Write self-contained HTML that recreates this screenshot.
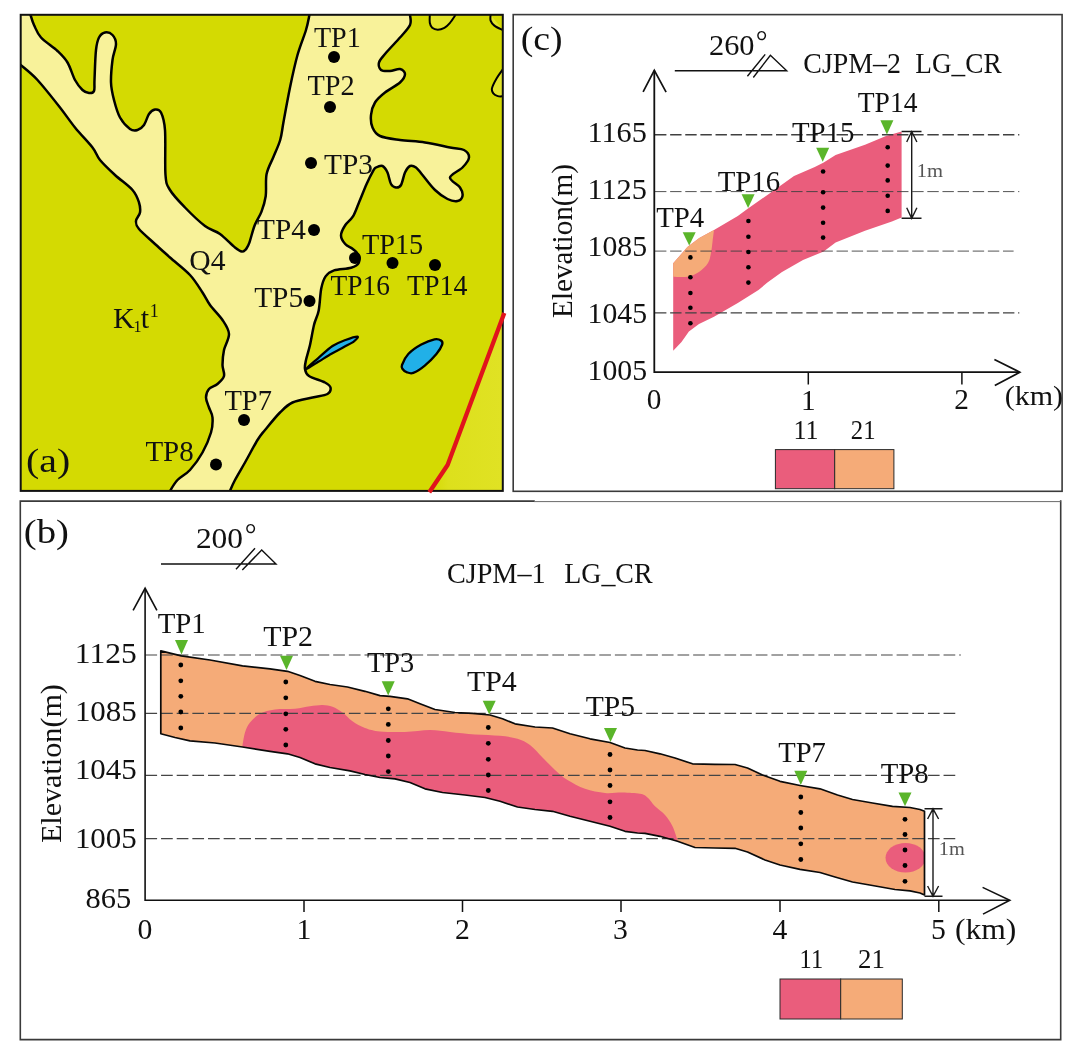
<!DOCTYPE html>
<html lang="en"><head><meta charset="utf-8"><title>Figure</title>
<style>html,body{margin:0;padding:0;background:#fff}svg{display:block}</style></head>
<body>
<svg width="1080" height="1056" viewBox="0 0 1080 1056">
<rect x="0" y="0" width="1080" height="1056" fill="#fff"/>
<defs><clipPath id="ca"><rect x="20.7" y="14.8" width="482.1" height="476.1"/></clipPath>
<linearGradient id="lg" x1="0" y1="0" x2="1" y2="0"><stop offset="0" stop-color="#d4da02"/><stop offset="0.25" stop-color="#dde01c"/><stop offset="1" stop-color="#e0e224"/></linearGradient>
</defs>
<g clip-path="url(#ca)">
<rect x="20.7" y="14.8" width="482.1" height="476.1" fill="#d4da02"/>
<path d="M503 315L447.5 465L430 491L503 491Z" fill="url(#lg)"/>
<path d="M410.0 14.8C410.0 16.5 411.7 21.2 410.0 25.0C408.3 28.8 404.2 32.7 400.0 37.5C395.8 42.3 388.5 49.8 385.0 54.0C381.5 58.2 379.7 59.8 379.0 62.5C378.3 65.2 379.2 68.6 381.0 70.0C382.8 71.4 386.8 71.2 390.0 71.0C393.2 70.8 397.5 68.5 400.0 69.0C402.5 69.5 405.0 71.8 405.0 74.0C405.0 76.2 403.3 79.4 400.0 82.5C396.7 85.6 389.2 89.2 385.0 92.5C380.8 95.8 377.3 98.8 375.0 102.5C372.7 106.2 371.4 110.8 371.0 115.0C370.6 119.2 371.0 124.0 372.5 127.5C374.0 131.0 375.4 133.9 380.0 136.0C384.6 138.1 392.5 138.9 400.0 140.0C407.5 141.1 416.7 141.2 425.0 142.5C433.3 143.8 443.5 146.2 450.0 147.5C456.5 148.8 460.8 148.3 464.0 150.0C467.2 151.7 469.2 154.6 469.0 157.5C468.8 160.4 465.7 164.2 462.5 167.5C459.3 170.8 450.4 174.2 450.0 177.5C449.6 180.8 457.9 184.4 460.0 187.5C462.1 190.6 462.9 193.8 462.5 196.0C462.1 198.2 460.0 200.5 457.5 201.0C455.0 201.5 451.2 200.8 447.5 199.0C443.8 197.2 439.2 194.0 435.0 190.0C430.8 186.0 425.7 178.8 422.5 175.0C419.3 171.2 418.1 169.0 416.0 167.5C413.9 166.0 411.8 165.2 410.0 166.0C408.2 166.8 406.5 169.3 405.0 172.5C403.5 175.7 402.5 182.5 401.0 185.0C399.5 187.5 397.7 187.7 396.0 187.5C394.3 187.3 392.4 186.5 391.0 184.0C389.6 181.5 388.9 175.5 387.5 172.5C386.1 169.5 384.4 166.8 382.5 166.0C380.6 165.2 377.5 166.7 376.0 167.5C374.5 168.3 374.9 167.9 373.3 170.7C371.7 173.5 368.9 178.9 366.5 184.3C364.1 189.7 361.1 197.6 358.8 203.0C356.5 208.4 355.1 213.0 352.8 216.7C350.5 220.4 347.2 222.1 345.2 225.2C343.2 228.3 341.0 232.3 341.0 235.4C341.0 238.5 343.2 241.7 345.2 244.0C347.2 246.3 350.7 247.3 352.8 249.0C354.9 250.7 357.0 251.9 358.0 254.2C359.0 256.5 359.9 260.4 358.8 262.7C357.7 265.0 355.2 266.5 351.1 267.8C347.0 269.1 338.4 269.0 334.1 270.4C329.9 271.8 327.7 273.4 325.6 276.4C323.5 279.4 322.5 282.6 321.3 288.3C320.1 294.0 319.9 304.3 318.7 310.4C317.5 316.5 315.4 319.2 314.0 325.0C312.6 330.8 311.3 339.2 310.0 345.0C308.7 350.8 306.8 356.0 306.0 360.0C305.2 364.0 304.5 366.3 305.0 369.0C305.5 371.7 305.7 373.8 309.0 376.0C312.3 378.2 321.4 380.6 325.0 382.5C328.6 384.4 330.1 385.6 330.5 387.5C330.9 389.4 330.5 392.3 327.5 394.0C324.5 395.7 318.3 396.1 312.5 397.5C306.7 398.9 297.9 400.0 292.5 402.5C287.1 405.0 284.6 407.9 280.0 412.5C275.4 417.1 268.8 425.4 265.0 430.0C261.2 434.6 260.8 434.6 257.5 440.0C254.2 445.4 248.8 455.8 245.0 462.5C241.2 469.2 237.5 475.3 235.0 480.0C232.5 484.7 230.8 489.1 230.0 490.9L170.0 490.9L170.0 490.9C171.2 489.1 174.2 483.5 177.5 480.0C180.8 476.5 185.8 474.6 190.0 470.0C194.2 465.4 199.0 458.8 202.5 452.5C206.0 446.2 209.3 438.3 211.0 432.5C212.7 426.7 212.8 421.7 212.5 417.5C212.2 413.3 210.1 410.8 209.0 407.5C207.9 404.2 206.0 400.6 206.0 397.5C206.0 394.4 207.1 391.2 209.0 389.0C210.9 386.8 215.0 386.2 217.5 384.0C220.0 381.8 223.2 379.2 224.0 376.0C224.8 372.8 222.5 369.3 222.5 365.0C222.5 360.7 222.9 355.2 224.0 350.0C225.1 344.8 229.2 339.0 229.0 334.0C228.8 329.0 225.7 324.8 222.5 320.0C219.3 315.2 213.3 309.6 210.0 305.0C206.7 300.4 205.8 297.5 202.5 292.5C199.2 287.5 195.4 280.8 190.0 275.0C184.6 269.2 175.8 262.7 170.0 257.5C164.2 252.3 160.2 248.8 155.0 244.0C149.8 239.2 142.2 232.8 139.0 229.0C135.8 225.2 135.8 223.8 136.0 221.0C136.2 218.2 139.5 215.6 140.0 212.5C140.5 209.4 140.2 206.2 139.0 202.5C137.8 198.8 136.5 194.6 132.5 190.0C128.5 185.4 120.4 180.0 115.0 175.0C109.6 170.0 103.8 164.6 100.0 160.0C96.2 155.4 96.7 152.9 92.5 147.5C88.3 142.1 80.4 134.2 75.0 127.5C69.6 120.8 66.2 115.4 60.0 107.5C53.8 99.6 44.0 87.1 37.5 80.0C30.9 72.9 23.5 67.5 20.7 65.0L20.7 14.8L30.5 14.8C31.1 16.5 32.2 21.2 34.0 25.0C35.8 28.8 37.1 33.2 41.0 37.5C44.9 41.8 53.1 46.8 57.5 51.0C61.9 55.2 64.6 57.7 67.5 62.5C70.4 67.3 72.5 75.4 75.0 80.0C77.5 84.6 80.2 87.8 82.5 90.0C84.8 92.2 87.1 92.8 89.0 93.0C90.9 93.2 93.1 93.2 94.0 91.0C94.9 88.8 94.2 86.8 94.5 80.0C94.8 73.2 95.2 57.1 96.0 50.0C96.8 42.9 97.5 40.4 99.0 37.5C100.5 34.6 102.8 32.9 105.0 32.5C107.2 32.1 110.7 33.1 112.5 35.0C114.3 36.9 116.0 39.8 116.0 44.0C116.0 48.2 113.3 53.6 112.5 60.0C111.7 66.4 110.8 75.8 111.0 82.5C111.2 89.2 112.5 94.2 114.0 100.0C115.5 105.8 117.3 112.7 120.0 117.5C122.7 122.3 127.1 126.9 130.0 129.0C132.9 131.1 135.2 130.7 137.5 130.0C139.8 129.3 142.1 127.7 144.0 125.0C145.9 122.3 147.2 116.6 149.0 114.0C150.8 111.4 153.0 109.8 155.0 109.5C157.0 109.2 159.3 109.1 161.0 112.5C162.7 115.9 164.2 119.6 165.0 130.0C165.8 140.4 164.7 165.0 165.5 175.0C166.3 185.0 166.8 184.6 170.0 190.0C173.2 195.4 179.2 201.5 185.0 207.5C190.8 213.5 199.2 221.6 205.0 226.0C210.8 230.4 215.0 230.4 220.0 234.0C225.0 237.6 231.3 244.6 235.0 247.5C238.7 250.4 240.1 251.3 241.9 251.6C243.8 251.9 245.4 249.5 246.1 249.1L246.1 249.1C246.7 248.0 248.1 246.3 249.5 242.3C250.9 238.3 252.7 230.3 254.7 225.2C256.7 220.1 259.7 216.4 261.5 211.6C263.3 206.8 264.8 202.4 265.7 196.2C266.6 189.9 265.3 180.6 266.6 174.1C267.9 167.6 271.1 162.7 273.4 157.0C275.7 151.3 278.5 145.8 280.2 140.0C281.9 134.2 281.9 130.8 283.5 122.0C285.1 113.2 287.7 98.7 290.0 87.5C292.3 76.3 294.8 64.6 297.5 55.0C300.2 45.4 304.0 36.7 306.0 30.0C308.0 23.3 308.9 17.3 309.5 14.8Z" fill="#f8f29a"/>
<path d="M30.5 14.8C31.1 16.5 32.2 21.2 34.0 25.0C35.8 28.8 37.1 33.2 41.0 37.5C44.9 41.8 53.1 46.8 57.5 51.0C61.9 55.2 64.6 57.7 67.5 62.5C70.4 67.3 72.5 75.4 75.0 80.0C77.5 84.6 80.2 87.8 82.5 90.0C84.8 92.2 87.1 92.8 89.0 93.0C90.9 93.2 93.1 93.2 94.0 91.0C94.9 88.8 94.2 86.8 94.5 80.0C94.8 73.2 95.2 57.1 96.0 50.0C96.8 42.9 97.5 40.4 99.0 37.5C100.5 34.6 102.8 32.9 105.0 32.5C107.2 32.1 110.7 33.1 112.5 35.0C114.3 36.9 116.0 39.8 116.0 44.0C116.0 48.2 113.3 53.6 112.5 60.0C111.7 66.4 110.8 75.8 111.0 82.5C111.2 89.2 112.5 94.2 114.0 100.0C115.5 105.8 117.3 112.7 120.0 117.5C122.7 122.3 127.1 126.9 130.0 129.0C132.9 131.1 135.2 130.7 137.5 130.0C139.8 129.3 142.1 127.7 144.0 125.0C145.9 122.3 147.2 116.6 149.0 114.0C150.8 111.4 153.0 109.8 155.0 109.5C157.0 109.2 159.3 109.1 161.0 112.5C162.7 115.9 164.2 119.6 165.0 130.0C165.8 140.4 164.7 165.0 165.5 175.0C166.3 185.0 166.8 184.6 170.0 190.0C173.2 195.4 179.2 201.5 185.0 207.5C190.8 213.5 199.2 221.6 205.0 226.0C210.8 230.4 215.0 230.4 220.0 234.0C225.0 237.6 231.3 244.6 235.0 247.5C238.7 250.4 240.1 251.3 241.9 251.6C243.8 251.9 245.4 249.5 246.1 249.1L246.1 249.1C246.7 248.0 248.1 246.3 249.5 242.3C250.9 238.3 252.7 230.3 254.7 225.2C256.7 220.1 259.7 216.4 261.5 211.6C263.3 206.8 264.8 202.4 265.7 196.2C266.6 189.9 265.3 180.6 266.6 174.1C267.9 167.6 271.1 162.7 273.4 157.0C275.7 151.3 278.5 145.8 280.2 140.0C281.9 134.2 281.9 130.8 283.5 122.0C285.1 113.2 287.7 98.7 290.0 87.5C292.3 76.3 294.8 64.6 297.5 55.0C300.2 45.4 304.0 36.7 306.0 30.0C308.0 23.3 308.9 17.3 309.5 14.8" fill="none" stroke="#000" stroke-width="2.5" stroke-linejoin="round" stroke-linecap="round"/>
<path d="M410.0 14.8C410.0 16.5 411.7 21.2 410.0 25.0C408.3 28.8 404.2 32.7 400.0 37.5C395.8 42.3 388.5 49.8 385.0 54.0C381.5 58.2 379.7 59.8 379.0 62.5C378.3 65.2 379.2 68.6 381.0 70.0C382.8 71.4 386.8 71.2 390.0 71.0C393.2 70.8 397.5 68.5 400.0 69.0C402.5 69.5 405.0 71.8 405.0 74.0C405.0 76.2 403.3 79.4 400.0 82.5C396.7 85.6 389.2 89.2 385.0 92.5C380.8 95.8 377.3 98.8 375.0 102.5C372.7 106.2 371.4 110.8 371.0 115.0C370.6 119.2 371.0 124.0 372.5 127.5C374.0 131.0 375.4 133.9 380.0 136.0C384.6 138.1 392.5 138.9 400.0 140.0C407.5 141.1 416.7 141.2 425.0 142.5C433.3 143.8 443.5 146.2 450.0 147.5C456.5 148.8 460.8 148.3 464.0 150.0C467.2 151.7 469.2 154.6 469.0 157.5C468.8 160.4 465.7 164.2 462.5 167.5C459.3 170.8 450.4 174.2 450.0 177.5C449.6 180.8 457.9 184.4 460.0 187.5C462.1 190.6 462.9 193.8 462.5 196.0C462.1 198.2 460.0 200.5 457.5 201.0C455.0 201.5 451.2 200.8 447.5 199.0C443.8 197.2 439.2 194.0 435.0 190.0C430.8 186.0 425.7 178.8 422.5 175.0C419.3 171.2 418.1 169.0 416.0 167.5C413.9 166.0 411.8 165.2 410.0 166.0C408.2 166.8 406.5 169.3 405.0 172.5C403.5 175.7 402.5 182.5 401.0 185.0C399.5 187.5 397.7 187.7 396.0 187.5C394.3 187.3 392.4 186.5 391.0 184.0C389.6 181.5 388.9 175.5 387.5 172.5C386.1 169.5 384.4 166.8 382.5 166.0C380.6 165.2 377.5 166.7 376.0 167.5C374.5 168.3 374.9 167.9 373.3 170.7C371.7 173.5 368.9 178.9 366.5 184.3C364.1 189.7 361.1 197.6 358.8 203.0C356.5 208.4 355.1 213.0 352.8 216.7C350.5 220.4 347.2 222.1 345.2 225.2C343.2 228.3 341.0 232.3 341.0 235.4C341.0 238.5 343.2 241.7 345.2 244.0C347.2 246.3 350.7 247.3 352.8 249.0C354.9 250.7 357.0 251.9 358.0 254.2C359.0 256.5 359.9 260.4 358.8 262.7C357.7 265.0 355.2 266.5 351.1 267.8C347.0 269.1 338.4 269.0 334.1 270.4C329.9 271.8 327.7 273.4 325.6 276.4C323.5 279.4 322.5 282.6 321.3 288.3C320.1 294.0 319.9 304.3 318.7 310.4C317.5 316.5 315.4 319.2 314.0 325.0C312.6 330.8 311.3 339.2 310.0 345.0C308.7 350.8 306.8 356.0 306.0 360.0C305.2 364.0 304.5 366.3 305.0 369.0C305.5 371.7 305.7 373.8 309.0 376.0C312.3 378.2 321.4 380.6 325.0 382.5C328.6 384.4 330.1 385.6 330.5 387.5C330.9 389.4 330.5 392.3 327.5 394.0C324.5 395.7 318.3 396.1 312.5 397.5C306.7 398.9 297.9 400.0 292.5 402.5C287.1 405.0 284.6 407.9 280.0 412.5C275.4 417.1 268.8 425.4 265.0 430.0C261.2 434.6 260.8 434.6 257.5 440.0C254.2 445.4 248.8 455.8 245.0 462.5C241.2 469.2 237.5 475.3 235.0 480.0C232.5 484.7 230.8 489.1 230.0 490.9" fill="none" stroke="#000" stroke-width="2.5" stroke-linejoin="round" stroke-linecap="round"/>
<path d="M170.0 490.9C171.2 489.1 174.2 483.5 177.5 480.0C180.8 476.5 185.8 474.6 190.0 470.0C194.2 465.4 199.0 458.8 202.5 452.5C206.0 446.2 209.3 438.3 211.0 432.5C212.7 426.7 212.8 421.7 212.5 417.5C212.2 413.3 210.1 410.8 209.0 407.5C207.9 404.2 206.0 400.6 206.0 397.5C206.0 394.4 207.1 391.2 209.0 389.0C210.9 386.8 215.0 386.2 217.5 384.0C220.0 381.8 223.2 379.2 224.0 376.0C224.8 372.8 222.5 369.3 222.5 365.0C222.5 360.7 222.9 355.2 224.0 350.0C225.1 344.8 229.2 339.0 229.0 334.0C228.8 329.0 225.7 324.8 222.5 320.0C219.3 315.2 213.3 309.6 210.0 305.0C206.7 300.4 205.8 297.5 202.5 292.5C199.2 287.5 195.4 280.8 190.0 275.0C184.6 269.2 175.8 262.7 170.0 257.5C164.2 252.3 160.2 248.8 155.0 244.0C149.8 239.2 142.2 232.8 139.0 229.0C135.8 225.2 135.8 223.8 136.0 221.0C136.2 218.2 139.5 215.6 140.0 212.5C140.5 209.4 140.2 206.2 139.0 202.5C137.8 198.8 136.5 194.6 132.5 190.0C128.5 185.4 120.4 180.0 115.0 175.0C109.6 170.0 103.8 164.6 100.0 160.0C96.2 155.4 96.7 152.9 92.5 147.5C88.3 142.1 80.4 134.2 75.0 127.5C69.6 120.8 66.2 115.4 60.0 107.5C53.8 99.6 44.0 87.1 37.5 80.0C30.9 72.9 23.5 67.5 20.7 65.0" fill="none" stroke="#000" stroke-width="2.5" stroke-linejoin="round" stroke-linecap="round"/>
<path d="M429.8 14.8C429.8 16.1 429.4 20.6 429.8 22.8C430.2 25.0 430.9 26.7 432.2 27.8C433.5 28.9 435.8 29.7 437.8 29.7C439.8 29.7 442.4 28.9 444.4 27.8C446.4 26.7 448.1 25.0 450.0 22.8C451.9 20.6 454.7 16.1 455.6 14.8" fill="#e2e42c" stroke="#000" stroke-width="2"/>
<path d="M490.6 14.8C490.6 15.8 490.0 18.8 490.6 20.6C491.2 22.4 492.4 24.0 494.4 25.6C496.4 27.2 501.4 29.3 502.8 30.0" fill="#e2e42c" stroke="#000" stroke-width="2"/>
<path d="M502.8 69.4C501.8 70.9 498.5 75.2 496.7 78.3C494.9 81.4 492.6 85.8 492.0 88.3C491.4 90.8 492.3 92.0 493.3 93.3C494.3 94.6 496.2 95.6 497.8 96.1C499.4 96.6 502.0 96.3 502.8 96.3" fill="#e2e42c" stroke="#000" stroke-width="2"/>
<path d="M306.0 369.0C305.9 368.4 313.6 362.1 318.0 358.3C322.4 354.5 327.9 349.1 332.5 346.0C337.1 342.9 341.3 341.6 345.5 340.0C349.7 338.4 356.1 336.4 357.5 336.6C358.9 336.8 356.3 339.5 354.0 341.3C351.7 343.1 347.2 345.1 343.5 347.2C339.8 349.3 335.7 351.3 331.5 353.7C327.3 356.1 322.6 359.2 318.3 361.8C314.1 364.4 306.1 369.6 306.0 369.0Z" fill="#21b0e8" stroke="#000" stroke-width="2.2" stroke-linejoin="round"/>
<path d="M402.0 365.0C402.9 362.5 405.1 357.4 408.3 354.0C411.5 350.6 416.9 346.9 421.3 344.5C425.7 342.1 431.2 340.0 434.5 339.3C437.8 338.6 439.7 339.6 441.0 340.5C442.3 341.4 443.0 342.2 442.2 344.5C441.4 346.8 439.3 350.5 436.4 354.0C433.5 357.5 428.6 362.5 424.8 365.6C421.0 368.8 416.3 371.8 413.3 372.9C410.3 374.0 408.4 372.8 406.6 372.2C404.8 371.6 403.4 370.2 402.6 369.0C401.8 367.8 401.1 367.5 402.0 365.0Z" fill="#21b0e8" stroke="#000" stroke-width="2.3"/>
</g>
<rect x="20.7" y="14.8" width="482.1" height="476.1" fill="none" stroke="#111" stroke-width="2"/>
<path d="M504.3 313L447.6 465L429.3 492.3" fill="none" stroke="#e0141c" stroke-width="4.3" stroke-linejoin="round"/>
<g font-family="'Liberation Serif', serif">
<circle cx="334.0" cy="57.0" r="6" fill="#000"/>
<circle cx="330.0" cy="107.0" r="6" fill="#000"/>
<circle cx="311.0" cy="163.0" r="6" fill="#000"/>
<circle cx="314.0" cy="230.0" r="6" fill="#000"/>
<circle cx="355.0" cy="258.0" r="6" fill="#000"/>
<circle cx="392.5" cy="263.0" r="6" fill="#000"/>
<circle cx="435.0" cy="265.0" r="6" fill="#000"/>
<circle cx="309.5" cy="301.0" r="6" fill="#000"/>
<circle cx="244.0" cy="420.0" r="6" fill="#000"/>
<circle cx="216.0" cy="464.5" r="6" fill="#000"/>
<text x="313.9" y="47.0" font-size="29.7" textLength="46.8" lengthAdjust="spacingAndGlyphs" fill="#111" >TP1</text>
<text x="307.4" y="95.3" font-size="29.7" textLength="47.2" lengthAdjust="spacingAndGlyphs" fill="#111" >TP2</text>
<text x="324.1" y="173.8" font-size="29.7" textLength="48.9" lengthAdjust="spacingAndGlyphs" fill="#111" >TP3</text>
<text x="257.0" y="239.3" font-size="29.7" textLength="48.8" lengthAdjust="spacingAndGlyphs" fill="#111" >TP4</text>
<text x="361.9" y="254.0" font-size="29.7" textLength="61.3" lengthAdjust="spacingAndGlyphs" fill="#111" >TP15</text>
<text x="330.5" y="294.5" font-size="29.7" textLength="59.4" lengthAdjust="spacingAndGlyphs" fill="#111" >TP16</text>
<text x="406.9" y="294.5" font-size="29.7" textLength="60.5" lengthAdjust="spacingAndGlyphs" fill="#111" >TP14</text>
<text x="254.2" y="307.4" font-size="29.7" textLength="48.9" lengthAdjust="spacingAndGlyphs" fill="#111" >TP5</text>
<text x="224.4" y="410.0" font-size="29.7" textLength="47.5" lengthAdjust="spacingAndGlyphs" fill="#111" >TP7</text>
<text x="145.4" y="461.0" font-size="29.7" textLength="48.3" lengthAdjust="spacingAndGlyphs" fill="#111" >TP8</text>
<text x="189.3" y="269.5" font-size="29.7" textLength="36.2" lengthAdjust="spacingAndGlyphs" fill="#111" >Q4</text>
<text font-size="30" fill="#111"><tspan x="112.9" y="328.1">K</tspan><tspan x="133.6" y="331.9" font-size="16">1</tspan><tspan x="140.8" y="328.1">t</tspan><tspan x="149.7" y="316.7" font-size="18">1</tspan></text>
<text x="26.1" y="471.8" font-size="34.4" textLength="44.2" lengthAdjust="spacingAndGlyphs" fill="#111" >(a)</text>
<rect x="513.2" y="14.6" width="548.9" height="476.7" fill="none" stroke="#3a3a3a" stroke-width="1.6"/>
<text x="520.8" y="50.0" font-size="33.5" textLength="41.9" lengthAdjust="spacingAndGlyphs" fill="#111" >(c)</text>
<polygon points="673.2,263.3 687.4,247.0 699.3,238.0 714.0,229.9 737.8,215.9 748.0,208.5 767.4,195.0 794.0,176.0 814.8,167.0 823.7,162.6 835.6,155.0 865.0,144.8 886.0,135.9 901.6,131.5 901.6,217.6 891.9,221.6 865.0,230.7 835.6,242.6 823.7,251.5 803.0,260.0 782.0,272.0 767.4,282.6 758.5,290.0 737.8,303.0 714.0,316.7 699.0,324.0 688.9,331.5 681.5,341.9 673.2,350.7" fill="#ea5d7c"/>
<path d="M673.2 263.3L687.4 247L699.3 238L714 229.9L714.0 229.9C713.8 231.8 713.1 237.2 712.6 241.0C712.1 244.8 711.8 249.3 711.0 253.0C710.2 256.7 710.0 259.8 708.0 263.0C706.0 266.2 702.4 269.7 699.0 272.0C695.6 274.3 691.7 275.9 687.4 276.7C683.1 277.5 675.6 276.7 673.2 276.7Z" fill="#f5ab78"/>
<path d="M655 134.8H1019.3" stroke="#404040" stroke-width="1.4" stroke-dasharray="11.4 3.73" fill="none"/>
<path d="M655 191.6H1019.3" stroke="#404040" stroke-width="0.9" stroke-dasharray="11.4 3.73" fill="none"/>
<path d="M655 251.1H1013.6" stroke="#404040" stroke-width="0.9" stroke-dasharray="11.4 3.73" fill="none"/>
<path d="M655 312.8H1019.3" stroke="#404040" stroke-width="1.3" stroke-dasharray="11.4 3.73" fill="none"/>
<path d="M654.3 70.6V372.2H1019.4" stroke="#111" stroke-width="1.8" fill="none" stroke-linejoin="miter" stroke-miterlimit="10"/>
<path d="M643.1 91.9L654.3 70.4L666.1 92.1" stroke="#111" fill="none" stroke-width="1.7"/>
<path d="M994.4 359.6L1019.8 372.2L994.8 385.6" stroke="#111" fill="none" stroke-width="1.7"/>
<path d="M808.3 372.3V384.5M961.9 372.3V384.5" stroke="#111" fill="none" stroke-width="1.5"/>
<path d="M674.8 70.8H786.7L770.4 55.3L753.3 77.5M747.4 76.3L765.2 54.4" stroke="#111" fill="none" stroke-width="1.4"/>
<text x="709.0" y="54.8" font-size="29.7" textLength="45.5" lengthAdjust="spacingAndGlyphs" fill="#111" >260</text>
<text x="755.7" y="50.9" font-size="29.5" fill="#111" >°</text>
<text x="803.3" y="72.6" font-size="28.8" textLength="97.6" lengthAdjust="spacingAndGlyphs" fill="#111" >CJPM–2</text>
<text x="915.3" y="72.6" font-size="28.8" textLength="86.3" lengthAdjust="spacingAndGlyphs" fill="#111" >LG_CR</text>
<text x="587.4" y="142.4" font-size="29.7" textLength="59.5" lengthAdjust="spacingAndGlyphs" fill="#111" >1165</text>
<text x="587.4" y="199.2" font-size="29.7" textLength="59.5" lengthAdjust="spacingAndGlyphs" fill="#111" >1125</text>
<text x="587.5" y="256.1" font-size="29.7" textLength="59.5" lengthAdjust="spacingAndGlyphs" fill="#111" >1085</text>
<text x="587.5" y="322.7" font-size="29.7" textLength="59.5" lengthAdjust="spacingAndGlyphs" fill="#111" >1045</text>
<text x="587.5" y="380.3" font-size="29.7" textLength="59.5" lengthAdjust="spacingAndGlyphs" fill="#111" >1005</text>
<text transform="translate(571.5 317.9) rotate(-90)" font-size="28.5" textLength="153.8" lengthAdjust="spacingAndGlyphs" fill="#111">Elevation(m)</text>
<text x="654.2" y="408.6" font-size="29.3" text-anchor="middle" fill="#111" >0</text>
<text x="808.3" y="410.0" font-size="29.3" text-anchor="middle" fill="#111" >1</text>
<text x="961.5" y="409.0" font-size="29.3" text-anchor="middle" fill="#111" >2</text>
<text x="1004.7" y="404.8" font-size="28.0" textLength="58.3" lengthAdjust="spacingAndGlyphs" fill="#111" >(km)</text>
<path d="M682.7 232.2H695.7L689.2 245.6Z" fill="#5ab52a"/>
<path d="M741.6 194.3H754.6L748.1 207.9Z" fill="#5ab52a"/>
<path d="M816.2 147.8H829.2L822.7 161.7Z" fill="#5ab52a"/>
<path d="M880.4 120.2H893.4L886.9 134.4Z" fill="#5ab52a"/>
<circle cx="690.4" cy="257.4" r="2.3" fill="#000"/><circle cx="690.4" cy="277.3" r="2.3" fill="#000"/><circle cx="690.4" cy="293.0" r="2.3" fill="#000"/><circle cx="690.4" cy="307.8" r="2.3" fill="#000"/><circle cx="690.4" cy="323.2" r="2.3" fill="#000"/>
<circle cx="748.4" cy="221.0" r="2.3" fill="#000"/><circle cx="748.4" cy="236.7" r="2.3" fill="#000"/><circle cx="748.4" cy="252.0" r="2.3" fill="#000"/><circle cx="748.4" cy="267.2" r="2.3" fill="#000"/><circle cx="748.4" cy="282.6" r="2.3" fill="#000"/>
<circle cx="823.1" cy="171.5" r="2.3" fill="#000"/><circle cx="823.1" cy="192.2" r="2.3" fill="#000"/><circle cx="823.1" cy="207.6" r="2.3" fill="#000"/><circle cx="823.1" cy="222.7" r="2.3" fill="#000"/><circle cx="823.1" cy="237.6" r="2.3" fill="#000"/>
<circle cx="887.7" cy="147.2" r="2.3" fill="#000"/><circle cx="887.7" cy="165.6" r="2.3" fill="#000"/><circle cx="887.7" cy="180.4" r="2.3" fill="#000"/><circle cx="887.7" cy="195.8" r="2.3" fill="#000"/><circle cx="887.7" cy="210.9" r="2.3" fill="#000"/>
<text x="656.2" y="227.2" font-size="29.7" textLength="48.1" lengthAdjust="spacingAndGlyphs" fill="#111" >TP4</text>
<text x="717.7" y="191.4" font-size="29.7" textLength="62.5" lengthAdjust="spacingAndGlyphs" fill="#111" >TP16</text>
<text x="792.0" y="141.9" font-size="29.7" textLength="62.5" lengthAdjust="spacingAndGlyphs" fill="#111" >TP15</text>
<text x="857.8" y="112.2" font-size="29.7" textLength="59.6" lengthAdjust="spacingAndGlyphs" fill="#111" >TP14</text>
<path d="M901.6 131.5H921.5M901.6 218.3H921.5M911.7 131.5V218.3M906.7 142L911.7 131.5L916.9 142M906.7 207.8L911.7 218.3L916.9 207.8" stroke="#1a1a1a" stroke-width="1.4" fill="none"/>
<text x="916.7" y="176.5" font-size="18.5" textLength="26.3" lengthAdjust="spacingAndGlyphs" fill="#555" >1m</text>
<text x="793.4" y="439.3" font-size="26.8" textLength="25.0" lengthAdjust="spacingAndGlyphs" fill="#111" >11</text>
<text x="850.8" y="439.3" font-size="26.8" textLength="24.7" lengthAdjust="spacingAndGlyphs" fill="#111" >21</text>
<rect x="775.4" y="449.6" width="59.3" height="39.1" fill="#ea5d7c" stroke="#2a2a2a" stroke-width="1"/>
<rect x="834.7" y="449.6" width="59.2" height="39.1" fill="#f5ab78" stroke="#2a2a2a" stroke-width="1"/>
<path d="M534 501.1H20.3V1039.6H1060.7V501.1" fill="none" stroke="#3a3a3a" stroke-width="1.6" stroke-linecap="square"/>
<path d="M534 501.6H1060.7" fill="none" stroke="#6a6a6a" stroke-width="1"/>
<text x="23.8" y="543.3" font-size="33.7" textLength="45.1" lengthAdjust="spacingAndGlyphs" fill="#111" >(b)</text>
<defs><clipPath id="cb"><polygon points="160.8,650.8 181.3,655.8 210.0,660.0 242.5,665.8 270.0,668.8 287.5,671.3 300.0,675.5 315.0,681.3 330.0,684.5 347.5,687.0 365.0,691.3 380.0,695.6 390.0,696.3 407.5,698.8 420.0,703.8 435.0,709.5 455.0,712.5 472.5,713.3 490.0,715.0 502.5,718.8 515.0,723.8 535.0,727.0 552.5,728.0 570.0,733.8 590.0,738.8 610.0,742.5 625.0,748.0 637.5,750.0 645.0,750.5 660.0,753.8 675.0,758.0 692.5,763.8 715.0,764.3 735.0,764.5 747.5,768.0 762.5,775.0 780.0,781.3 800.0,785.5 820.0,788.8 837.5,795.0 852.5,799.5 872.5,803.0 892.5,806.3 910.0,807.5 920.0,809.5 924.5,811.3 924.5,895.0 920.0,893.0 910.0,890.8 895.0,889.5 872.5,885.5 852.5,882.0 835.0,877.0 820.0,872.5 800.0,869.3 780.0,865.0 765.0,860.0 747.5,852.0 735.0,848.3 715.0,848.0 695.0,847.5 677.5,841.3 660.0,836.3 645.0,833.3 637.5,833.0 625.0,831.3 610.0,826.3 590.0,821.3 570.0,816.3 552.5,811.3 535.0,809.5 517.5,807.0 500.0,801.3 485.0,797.5 465.0,795.0 442.5,792.5 425.0,788.8 410.0,782.5 395.0,778.8 380.0,777.5 365.0,774.5 350.0,770.8 330.0,767.5 315.0,763.8 300.0,757.5 287.5,753.8 270.0,751.3 242.5,747.0 215.0,743.0 190.0,740.8 175.0,737.5 160.8,733.8"/></clipPath></defs>
<polygon points="160.8,650.8 181.3,655.8 210.0,660.0 242.5,665.8 270.0,668.8 287.5,671.3 300.0,675.5 315.0,681.3 330.0,684.5 347.5,687.0 365.0,691.3 380.0,695.6 390.0,696.3 407.5,698.8 420.0,703.8 435.0,709.5 455.0,712.5 472.5,713.3 490.0,715.0 502.5,718.8 515.0,723.8 535.0,727.0 552.5,728.0 570.0,733.8 590.0,738.8 610.0,742.5 625.0,748.0 637.5,750.0 645.0,750.5 660.0,753.8 675.0,758.0 692.5,763.8 715.0,764.3 735.0,764.5 747.5,768.0 762.5,775.0 780.0,781.3 800.0,785.5 820.0,788.8 837.5,795.0 852.5,799.5 872.5,803.0 892.5,806.3 910.0,807.5 920.0,809.5 924.5,811.3 924.5,895.0 920.0,893.0 910.0,890.8 895.0,889.5 872.5,885.5 852.5,882.0 835.0,877.0 820.0,872.5 800.0,869.3 780.0,865.0 765.0,860.0 747.5,852.0 735.0,848.3 715.0,848.0 695.0,847.5 677.5,841.3 660.0,836.3 645.0,833.3 637.5,833.0 625.0,831.3 610.0,826.3 590.0,821.3 570.0,816.3 552.5,811.3 535.0,809.5 517.5,807.0 500.0,801.3 485.0,797.5 465.0,795.0 442.5,792.5 425.0,788.8 410.0,782.5 395.0,778.8 380.0,777.5 365.0,774.5 350.0,770.8 330.0,767.5 315.0,763.8 300.0,757.5 287.5,753.8 270.0,751.3 242.5,747.0 215.0,743.0 190.0,740.8 175.0,737.5 160.8,733.8" fill="#f5ab78"/>
<g clip-path="url(#cb)"><path d="M241.8 750.0C242.3 747.1 243.6 737.1 245.0 732.5C246.4 727.9 247.5 725.6 250.0 722.5C252.5 719.4 255.8 716.0 260.0 713.8C264.2 711.6 269.2 710.3 275.0 709.5C280.8 708.7 289.2 709.3 295.0 708.8C300.8 708.3 305.4 706.9 310.0 706.3C314.6 705.7 318.8 704.9 322.5 705.0C326.2 705.1 329.2 705.5 332.5 706.8C335.8 708.0 339.2 710.1 342.5 712.5C345.8 714.9 348.8 718.7 352.5 721.3C356.2 723.9 360.4 726.3 365.0 728.0C369.6 729.7 373.3 730.8 380.0 731.5C386.7 732.2 396.7 732.2 405.0 732.0C413.3 731.8 422.5 730.0 430.0 730.0C437.5 730.0 442.5 731.2 450.0 732.0C457.5 732.8 466.7 733.9 475.0 734.5C483.3 735.1 492.9 735.1 500.0 735.8C507.1 736.5 512.5 737.3 517.5 738.8C522.5 740.3 525.8 741.9 530.0 745.0C534.2 748.1 538.3 753.3 542.5 757.5C546.7 761.7 550.8 766.2 555.0 770.0C559.2 773.8 562.5 776.9 567.5 780.0C572.5 783.1 578.8 786.6 585.0 788.8C591.2 791.0 598.8 792.4 605.0 793.0C611.2 793.6 616.7 792.4 622.5 792.5C628.3 792.6 635.8 793.0 640.0 793.8C644.2 794.6 645.0 795.4 647.5 797.5C650.0 799.6 652.1 803.4 655.0 806.3C657.9 809.2 662.1 811.7 665.0 815.0C667.9 818.3 670.3 821.8 672.5 826.3C674.7 830.8 677.1 839.4 678.0 842.0L678 900L241.8 900Z" fill="#ea5d7c"/><ellipse cx="905.5" cy="857.8" rx="20" ry="14.8" fill="#ea5d7c"/></g>
<path d="M145.4 655.0H960.8" stroke="#454545" stroke-width="1.2" stroke-dasharray="11.7 3.95" fill="none"/>
<path d="M145.4 713.4H957.2" stroke="#454545" stroke-width="1.2" stroke-dasharray="11.7 3.95" fill="none"/>
<path d="M145.4 775.3H957.2" stroke="#454545" stroke-width="1.2" stroke-dasharray="11.7 3.95" fill="none"/>
<path d="M145.4 838.6H957.2" stroke="#454545" stroke-width="1.2" stroke-dasharray="11.7 3.95" fill="none"/>
<polygon points="160.8,650.8 181.3,655.8 210.0,660.0 242.5,665.8 270.0,668.8 287.5,671.3 300.0,675.5 315.0,681.3 330.0,684.5 347.5,687.0 365.0,691.3 380.0,695.6 390.0,696.3 407.5,698.8 420.0,703.8 435.0,709.5 455.0,712.5 472.5,713.3 490.0,715.0 502.5,718.8 515.0,723.8 535.0,727.0 552.5,728.0 570.0,733.8 590.0,738.8 610.0,742.5 625.0,748.0 637.5,750.0 645.0,750.5 660.0,753.8 675.0,758.0 692.5,763.8 715.0,764.3 735.0,764.5 747.5,768.0 762.5,775.0 780.0,781.3 800.0,785.5 820.0,788.8 837.5,795.0 852.5,799.5 872.5,803.0 892.5,806.3 910.0,807.5 920.0,809.5 924.5,811.3 924.5,895.0 920.0,893.0 910.0,890.8 895.0,889.5 872.5,885.5 852.5,882.0 835.0,877.0 820.0,872.5 800.0,869.3 780.0,865.0 765.0,860.0 747.5,852.0 735.0,848.3 715.0,848.0 695.0,847.5 677.5,841.3 660.0,836.3 645.0,833.3 637.5,833.0 625.0,831.3 610.0,826.3 590.0,821.3 570.0,816.3 552.5,811.3 535.0,809.5 517.5,807.0 500.0,801.3 485.0,797.5 465.0,795.0 442.5,792.5 425.0,788.8 410.0,782.5 395.0,778.8 380.0,777.5 365.0,774.5 350.0,770.8 330.0,767.5 315.0,763.8 300.0,757.5 287.5,753.8 270.0,751.3 242.5,747.0 215.0,743.0 190.0,740.8 175.0,737.5 160.8,733.8" fill="none" stroke="#0a0a0a" stroke-width="1.7" stroke-linejoin="round"/>
<path d="M145.1 588.6V900.2H1009.4" stroke="#111" fill="none" stroke-width="1.6"/>
<path d="M133.1 610.4L145.1 588.3L156.9 610.4" stroke="#111" fill="none" stroke-width="1.6"/>
<path d="M982.6 887.4L1009.8 900.2L983 914.1" stroke="#111" fill="none" stroke-width="1.6"/>
<path d="M304 900.3V912M462.5 900.3V912M621 900.3V912M780 900.3V912M938.8 900.3V912" stroke="#111" fill="none" stroke-width="1.5"/>
<path d="M161 564H276L261.7 550L242.3 570M236 569.3L255 548.3" stroke="#111" fill="none" stroke-width="1.4"/>
<text x="195.9" y="548.3" font-size="29.7" textLength="47.1" lengthAdjust="spacingAndGlyphs" fill="#111" >200</text>
<text x="244.7" y="544.2" font-size="29.5" fill="#111" >°</text>
<text x="446.9" y="582.5" font-size="28.5" textLength="98.7" lengthAdjust="spacingAndGlyphs" fill="#111" >CJPM–1</text>
<text x="564.2" y="582.5" font-size="28.5" textLength="88.4" lengthAdjust="spacingAndGlyphs" fill="#111" >LG_CR</text>
<text x="74.8" y="662.7" font-size="29.7" textLength="61.9" lengthAdjust="spacingAndGlyphs" fill="#111" >1125</text>
<text x="74.9" y="721.2" font-size="29.7" textLength="61.9" lengthAdjust="spacingAndGlyphs" fill="#111" >1085</text>
<text x="74.9" y="779.3" font-size="29.7" textLength="61.9" lengthAdjust="spacingAndGlyphs" fill="#111" >1045</text>
<text x="74.9" y="848.0" font-size="29.7" textLength="61.9" lengthAdjust="spacingAndGlyphs" fill="#111" >1005</text>
<text x="85.5" y="908.3" font-size="29.7" textLength="45.7" lengthAdjust="spacingAndGlyphs" fill="#111" >865</text>
<text transform="translate(60.8 843.1) rotate(-90)" font-size="29.6" textLength="159.0" lengthAdjust="spacingAndGlyphs" fill="#111">Elevation(m)</text>
<text x="145.0" y="938.8" font-size="29.7" text-anchor="middle" fill="#111" >0</text>
<text x="304.0" y="938.8" font-size="29.7" text-anchor="middle" fill="#111" >1</text>
<text x="462.5" y="938.8" font-size="29.7" text-anchor="middle" fill="#111" >2</text>
<text x="620.5" y="938.8" font-size="29.7" text-anchor="middle" fill="#111" >3</text>
<text x="780.0" y="938.8" font-size="29.7" text-anchor="middle" fill="#111" >4</text>
<text x="938.3" y="938.8" font-size="29.7" text-anchor="middle" fill="#111" >5</text>
<text x="954.9" y="938.7" font-size="28.5" textLength="61.5" lengthAdjust="spacingAndGlyphs" fill="#111" >(km)</text>
<path d="M175.0 640.0H188.0L181.5 654.5Z" fill="#5ab52a"/>
<path d="M280.0 655.8H293.0L286.5 670.0Z" fill="#5ab52a"/>
<path d="M381.7 681.3H394.7L388.2 695.6Z" fill="#5ab52a"/>
<path d="M482.7 700.8H495.7L489.2 714.5Z" fill="#5ab52a"/>
<path d="M604.0 728.0H617.0L610.5 742.0Z" fill="#5ab52a"/>
<path d="M794.3 770.8H807.3L800.8 785.0Z" fill="#5ab52a"/>
<path d="M898.5 792.5H911.5L905.0 806.3Z" fill="#5ab52a"/>
<circle cx="180.8" cy="665.0" r="2.4" fill="#000"/><circle cx="180.8" cy="680.8" r="2.4" fill="#000"/><circle cx="180.8" cy="696.3" r="2.4" fill="#000"/><circle cx="180.8" cy="712.0" r="2.4" fill="#000"/><circle cx="180.8" cy="728.0" r="2.4" fill="#000"/>
<circle cx="285.8" cy="682.0" r="2.4" fill="#000"/><circle cx="285.8" cy="697.8" r="2.4" fill="#000"/><circle cx="285.8" cy="713.8" r="2.4" fill="#000"/><circle cx="285.8" cy="729.3" r="2.4" fill="#000"/><circle cx="285.8" cy="745.0" r="2.4" fill="#000"/>
<circle cx="388.3" cy="708.8" r="2.4" fill="#000"/><circle cx="388.3" cy="724.4" r="2.4" fill="#000"/><circle cx="388.3" cy="740.5" r="2.4" fill="#000"/><circle cx="388.3" cy="756.0" r="2.4" fill="#000"/><circle cx="388.3" cy="771.6" r="2.4" fill="#000"/>
<circle cx="488.3" cy="727.5" r="2.4" fill="#000"/><circle cx="488.3" cy="743.3" r="2.4" fill="#000"/><circle cx="488.3" cy="759.3" r="2.4" fill="#000"/><circle cx="488.3" cy="775.0" r="2.4" fill="#000"/><circle cx="488.3" cy="790.5" r="2.4" fill="#000"/>
<circle cx="610.0" cy="754.5" r="2.4" fill="#000"/><circle cx="610.0" cy="770.0" r="2.4" fill="#000"/><circle cx="610.0" cy="785.5" r="2.4" fill="#000"/><circle cx="610.0" cy="801.8" r="2.4" fill="#000"/><circle cx="610.0" cy="817.5" r="2.4" fill="#000"/>
<circle cx="800.8" cy="797.0" r="2.4" fill="#000"/><circle cx="800.8" cy="812.5" r="2.4" fill="#000"/><circle cx="800.8" cy="828.0" r="2.4" fill="#000"/><circle cx="800.8" cy="843.8" r="2.4" fill="#000"/><circle cx="800.8" cy="859.5" r="2.4" fill="#000"/>
<circle cx="905.0" cy="819.3" r="2.4" fill="#000"/><circle cx="905.0" cy="834.5" r="2.4" fill="#000"/><circle cx="905.0" cy="850.0" r="2.4" fill="#000"/><circle cx="905.0" cy="865.5" r="2.4" fill="#000"/><circle cx="905.0" cy="881.3" r="2.4" fill="#000"/>
<text x="157.7" y="632.7" font-size="29.7" textLength="48.1" lengthAdjust="spacingAndGlyphs" fill="#111" >TP1</text>
<text x="263.2" y="646.3" font-size="29.7" textLength="49.8" lengthAdjust="spacingAndGlyphs" fill="#111" >TP2</text>
<text x="366.9" y="671.6" font-size="29.7" textLength="47.3" lengthAdjust="spacingAndGlyphs" fill="#111" >TP3</text>
<text x="466.9" y="691.3" font-size="29.7" textLength="49.9" lengthAdjust="spacingAndGlyphs" fill="#111" >TP4</text>
<text x="585.7" y="716.3" font-size="29.7" textLength="49.3" lengthAdjust="spacingAndGlyphs" fill="#111" >TP5</text>
<text x="778.2" y="761.8" font-size="29.7" textLength="47.7" lengthAdjust="spacingAndGlyphs" fill="#111" >TP7</text>
<text x="880.7" y="782.5" font-size="29.7" textLength="48.0" lengthAdjust="spacingAndGlyphs" fill="#111" >TP8</text>
<path d="M924.5 808.8H942.5M924.5 896.3H942.5M933 808.8V896.3M927.6 819L933 808.8L938.6 819M927.6 886L933 896.3L938.6 886" stroke="#1a1a1a" stroke-width="1.4" fill="none"/>
<text x="938.8" y="854.5" font-size="18.5" textLength="26.0" lengthAdjust="spacingAndGlyphs" fill="#555" >1m</text>
<text x="799.6" y="968.3" font-size="26.8" textLength="23.5" lengthAdjust="spacingAndGlyphs" fill="#111" >11</text>
<text x="858.1" y="968.3" font-size="26.8" textLength="26.8" lengthAdjust="spacingAndGlyphs" fill="#111" >21</text>
<rect x="780" y="979" width="60.7" height="40" fill="#ea5d7c" stroke="#2a2a2a" stroke-width="1"/>
<rect x="840.7" y="979" width="61.6" height="40" fill="#f5ab78" stroke="#2a2a2a" stroke-width="1"/>
</g>
</svg>
</body></html>
